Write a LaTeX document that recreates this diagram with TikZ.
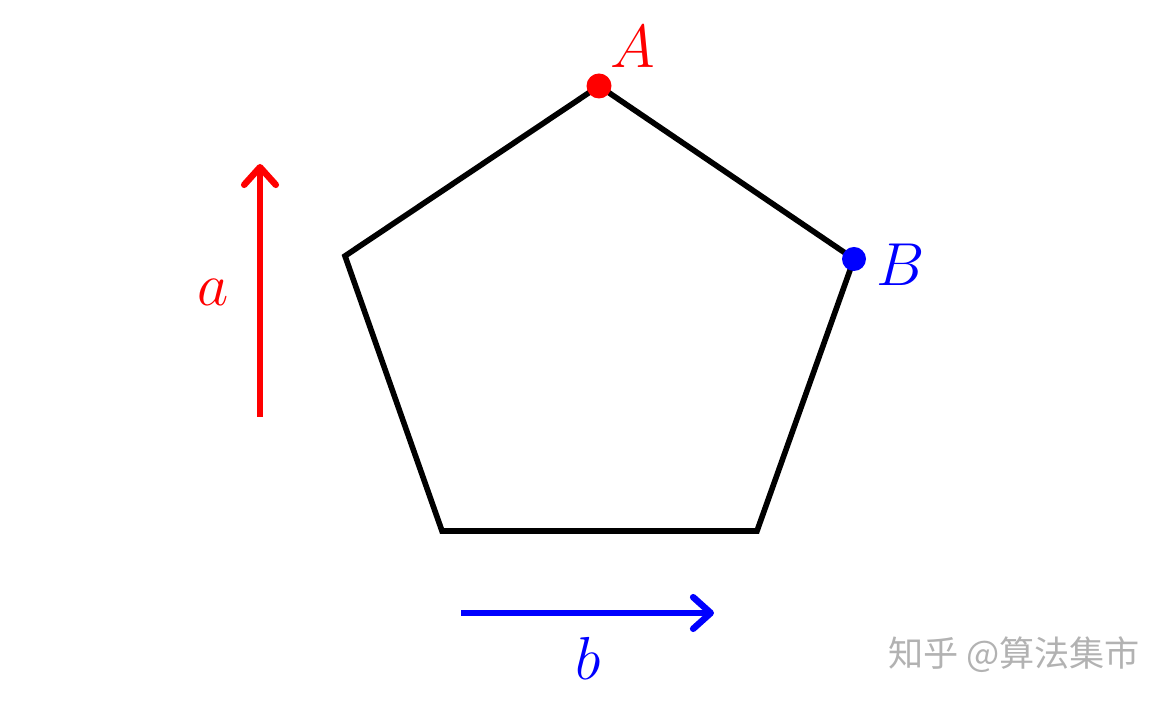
\documentclass[tikz,border=0pt]{standalone}
\usepackage{fontspec}
\newfontfamily\cjk{Noto Sans CJK SC}
\usetikzlibrary{arrows.meta}
\tikzset{
	vec/.style={line width=1.85pt, -{Straight Barb[round, length=5pt, width=9pt, line width=1.85pt]}},
	lbl/.style={font=\fontsize{16}{19}\selectfont},
}

\begin{document}
\begin{tikzpicture}[x=0.1mm, y=-0.1mm]
		%%%%% START %%%%%
		\useasboundingbox (0, 0) rectangle (1170, 702);
		
		\coordinate (top) at (599, 86);
		\coordinate (right) at (854, 259);
		\coordinate (lowright) at (757, 531);
		\coordinate (lowleft) at (442, 531);
		\coordinate (left) at (345, 256);
		
		\draw[line width=1.6pt, line join=miter] (top) -- (right) -- (lowright) -- (lowleft) -- (left) -- cycle;
		
		\fill[red] (top) circle (12.5);
		\fill[blue] (right) circle (12);
		\node[lbl, red] (labA) at (633, 47) {$A$};
		\node[lbl, blue] (labB) at (901, 265) {$B$};
		
		\coordinate (a0) at (260, 417);
		\coordinate (a1) at (260, 164);
		\draw[vec, red] (a0) -- (a1);
		\node[lbl, red] (laba) at (213, 292) {$a$};
		
		\coordinate (b0) at (461, 613);
		\coordinate (b1) at (714, 613);
		\draw[vec, blue] (b0) -- (b1);
		\node[lbl, blue] (labb) at (588, 658) {$b$};
		
		\node[black!30, font=\cjk\fontsize{10}{12}\selectfont] (mark) at (1014, 655) {知乎 @算法集市};
		%%%%% END %%%%%
	\end{tikzpicture}
\end{document}
